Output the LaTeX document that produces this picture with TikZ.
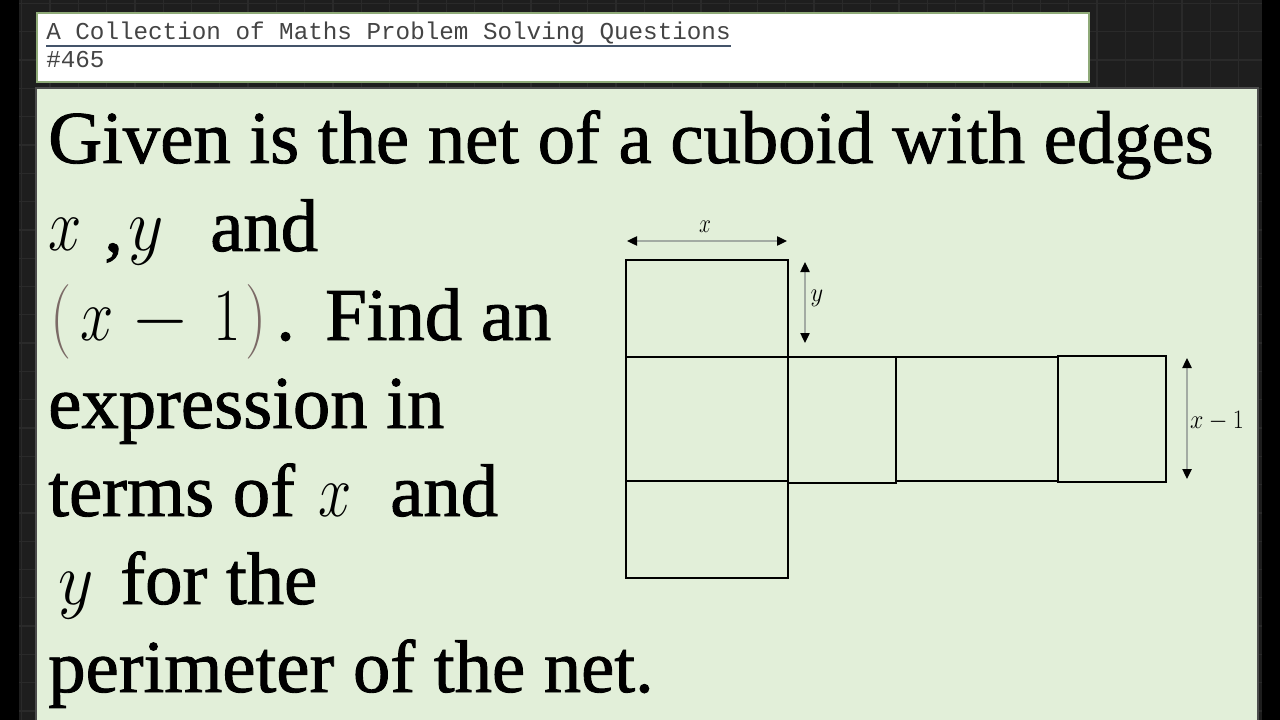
\RequirePackage{fix-cm}
\documentclass[tikz,border=0pt]{standalone}
\usepackage{graphicx}
\usepackage{fontspec}
\setmainfont{Liberation Serif}
\newfontfamily\qfont[FakeBold=1.2]{Liberation Serif}
\newfontfamily\hdrfont{Liberation Mono}
\usetikzlibrary{arrows.meta}
\definecolor{bgdark}{HTML}{1E1E1E}
\definecolor{gridc}{HTML}{2A2A2A}
\definecolor{panel}{HTML}{E2EFD9}
\definecolor{hdrborder}{HTML}{8FAA78}
\definecolor{hdrtext}{HTML}{444444}
\definecolor{ulc}{HTML}{44546A}
\definecolor{parc}{HTML}{7B6A66}
\definecolor{dimline}{HTML}{A3ABA3}
\newcommand{\mx}[1]{\scalebox{0.8}[1]{$#1$}}
\newcommand{\my}[1]{\scalebox{0.92}[1]{$#1$}}
\tikzset{
  txt/.style={anchor=base west, inner sep=0pt, font=\qfont\fontsize{56}{66}\selectfont},
  hdr/.style={anchor=base west, inner sep=0pt, font=\hdrfont\fontsize{18.2}{20}\selectfont, text=hdrtext},
  face/.style={draw=black, line width=1.5pt},
  dimarrow/.style={draw=dimline, line width=1pt, {Triangle[length=7.5pt,width=7pt,color=black]}-{Triangle[length=7.5pt,width=7pt,color=black]}},
  dimlabel/.style={inner sep=0pt, font=\fontsize{20}{22}\selectfont}
}
\begin{document}
\begin{tikzpicture}[x=0.75pt,y=-0.75pt]
\useasboundingbox (0,0) rectangle (1280,720);
% background
\fill[black] (0,0) rectangle (1280,720);
\fill[bgdark] (19,0) rectangle (1262,720);
\foreach \i in {0,...,43} \draw[gridc, line width=1pt] ({21.7+28.3*\i},0) -- ({21.7+28.3*\i},720);
\foreach \j in {0,...,25} \draw[gridc, line width=1pt] (19,{3.5+28.3*\j}) -- (1262,{3.5+28.3*\j});
% header
\draw[fill=white, draw=hdrborder, line width=0.8pt] (37,13) rectangle (1089,82);
\node[hdr] (title) at (46,40) {A Collection of Maths Problem Solving Questions};
\draw[ulc, line width=0.9pt] ([yshift=-4.5pt]title.base west) -- ([yshift=-4.5pt]title.base east);
\node[hdr] (num) at (46,68) {\#465};
% panel
\fill[panel] (36,88) rectangle (1258,720);
\draw[black!70, line width=0.8pt] (36,720) -- (36,88) -- (1258,88) -- (1258,720);
% question text
\node[txt] (l1) at (48,163) {Given is the net of a cuboid with edges};
\node[txt] (l2x) at (48,251) {\mx{x}};
\node[txt] (l2c) at (104,251) {,};
\node[txt] (l2y) at (128,251) {\my{y}};
\node[txt] (l2a) at (210,251) {and};
\node[txt] (l3p) at (50,340) {\mx{\color{parc}(}};
\node[txt] (l3x) at (80,340) {\mx{x}};
\node[txt] (l3m) at (131,340) {$-$};
\node[txt] (l3o) at (213,340) {\mx{1}};
\node[txt] (l3q) at (245,340) {\mx{\color{parc})}};
\node[txt] (l3d) at (276,340) {.};
\node[txt] (l3f) at (325,340) {Find an};
\node[txt] (l4) at (48,428) {expression in};
\node[txt] (l5) at (48,516) {terms of};
\node[txt] (l5x) at (318,516) {\mx{x}};
\node[txt] (l5a) at (390,516) {and};
\node[txt] (l6y) at (58,604) {\my{y}};
\node[txt] (l6) at (120,604) {for the};
\node[txt] (l7) at (48,692) {perimeter of the net.};
% net of the cuboid
\coordinate (a1) at (626,260);
\coordinate (a2) at (788,357);
\coordinate (b1) at (626,357);
\coordinate (b2) at (788,481);
\coordinate (c1) at (626,481);
\coordinate (c2) at (788,578);
\coordinate (d1) at (788,357);
\coordinate (d2) at (896,483);
\coordinate (e1) at (896,357);
\coordinate (e2) at (1058,481);
\coordinate (f1) at (1058,356);
\coordinate (f2) at (1166,482);
\draw[face] (a1) rectangle (a2);
\draw[face] (b1) rectangle (b2);
\draw[face] (c1) rectangle (c2);
\draw[face] (d1) rectangle (d2);
\draw[face] (e1) rectangle (e2);
\draw[face] (f1) rectangle (f2);
% dimensions
\coordinate (xs) at (627,241);
\coordinate (xe) at (787,241);
\draw[dimarrow] (xs) -- (xe);
\node[dimlabel] (xl) at (705,227) {\mx{x}};
\coordinate (ys) at (805,262);
\coordinate (ye) at (805,343);
\draw[dimarrow] (ys) -- (ye);
\node[dimlabel] (yl) at (817,298) {\my{y}};
\coordinate (zs) at (1187,358);
\coordinate (ze) at (1187,479);
\draw[dimarrow] (zs) -- (ze);
\node[dimlabel] (zl) at (1217,421) {\scalebox{0.9}[1]{$x-1$}};
\end{tikzpicture}
\end{document}
